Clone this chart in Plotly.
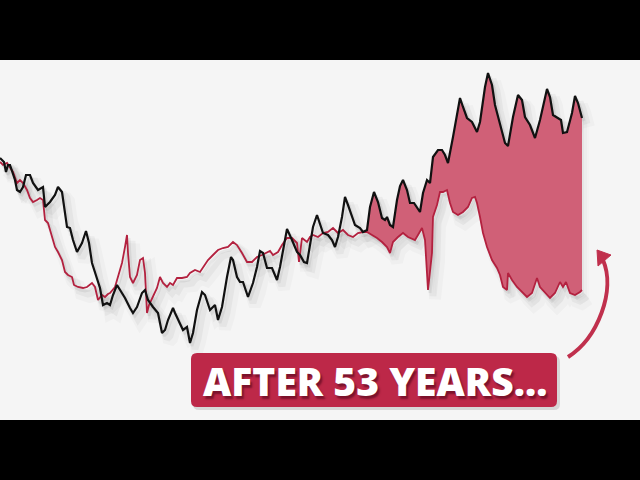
import numpy as np
import plotly.graph_objects as go

# time index (0..582 ~ 53 years) and series values
t_black = [0, 4, 6, 8, 10, 15, 17, 20, 23, 26, 30, 33, 38, 42, 43, 45, 50, 55, 58, 62, 65, 67, 70, 73, 77, 82, 86, 89,
           92, 95, 98, 100, 103, 107, 110, 113, 117, 120, 125, 130, 133, 137, 142, 145, 148, 153, 158, 162, 165, 168,
           173, 175, 180, 183, 187, 190, 193, 197, 202, 205, 210, 215, 218, 222, 227, 231, 233, 237, 240, 243, 248,
           253, 257, 260, 263, 267, 272, 277, 280, 287, 292, 297, 300, 304, 307, 310, 313, 317, 320, 323, 328, 332,
           335, 338, 342, 345, 348, 352, 355, 360, 363, 367, 370, 374, 378, 382, 385, 387, 390, 393, 397, 400, 403,
           407, 410, 414, 417, 420, 423, 427, 430, 433, 438, 442, 445, 448, 453, 457, 460, 463, 467, 472, 477, 480,
           485, 488, 492, 495, 500, 505, 508, 513, 518, 522, 525, 530, 535, 540, 547, 550, 553, 558, 561, 563, 567,
           572, 575, 578, 582]
v_black = [262, 258, 248, 255, 255, 240, 230, 228, 233, 245, 245, 237, 230, 232, 233, 213, 218, 225, 233, 228, 207, 193,
           192, 180, 168, 177, 189, 177, 157, 147, 137, 132, 115, 117, 115, 125, 135, 130, 122, 112, 107, 113, 127, 130,
           120, 113, 107, 87, 90, 100, 112, 107, 97, 90, 93, 77, 87, 110, 128, 125, 110, 115, 100, 113, 143, 163, 160,
           143, 138, 138, 123, 137, 153, 169, 167, 152, 152, 140, 153, 191, 180, 168, 165, 158, 157, 173, 193, 205,
           197, 187, 185, 180, 173, 183, 203, 223, 215, 203, 195, 192, 188, 190, 213, 228, 218, 202, 200, 203, 195,
           193, 220, 234, 240, 230, 217, 217, 212, 208, 227, 240, 237, 263, 270, 270, 265, 257, 283, 307, 322, 313,
           302, 298, 288, 298, 333, 347, 335, 315, 295, 277, 274, 303, 325, 320, 303, 295, 282, 300, 331, 323, 305,
           302, 300, 287, 288, 307, 324, 317, 302]

t_red = [0, 3, 7, 10, 13, 17, 20, 23, 27, 30, 33, 37, 40, 43, 45, 48, 52, 55, 58, 62, 65, 68, 72, 74, 78, 83, 87, 92, 95,
         98, 102, 105, 108, 110, 115, 118, 122, 125, 127, 128, 130, 133, 137, 140, 143, 145, 147, 149, 153, 157, 160,
         163, 167, 170, 173, 177, 182, 187, 190, 195, 200, 205, 208, 213, 218, 223, 228, 233, 237, 242, 247, 252, 257,
         262, 267, 270, 273, 278, 282, 287, 292, 297, 299, 302, 307, 310, 313, 318, 323, 328, 333, 338, 343, 348, 353,
         358, 363, 367, 372, 377, 382, 387, 390, 393, 398, 403, 408, 410, 415, 418, 422, 425, 428, 432, 433, 437, 440,
         443, 447, 450, 453, 458, 463, 468, 472, 475, 477, 480, 483, 487, 492, 497, 500, 503, 507, 508, 512, 517, 522,
         527, 532, 537, 540, 545, 550, 555, 560, 563, 566, 570, 575, 580, 582]
v_red = [258, 255, 257, 253, 248, 237, 240, 237, 230, 222, 218, 220, 222, 220, 200, 197, 183, 173, 168, 160, 148, 145, 143,
         135, 133, 132, 133, 137, 133, 120, 125, 123, 126, 127, 133, 143, 157, 173, 185, 167, 143, 137, 145, 160, 162,
         147, 107, 115, 123, 132, 143, 137, 133, 137, 135, 142, 142, 143, 147, 150, 148, 155, 160, 165, 170, 172, 173,
         178, 175, 167, 158, 158, 163, 165, 168, 169, 165, 168, 175, 182, 182, 177, 158, 182, 178, 183, 185, 183, 187,
         188, 192, 187, 190, 185, 183, 187, 188, 188, 185, 182, 178, 173, 167, 178, 183, 187, 183, 182, 180, 185, 192,
         180, 130, 167, 203, 215, 228, 228, 230, 217, 208, 205, 208, 213, 222, 223, 217, 203, 187, 173, 160, 152, 145,
         133, 130, 147, 140, 133, 128, 123, 127, 142, 133, 127, 122, 127, 138, 133, 138, 127, 125, 128, 130]

label_text = "AFTER 53 YEARS..."
gap_start = 365  # where the black series overtakes the red one

BLACK = "#111111"
RED = "#b3213f"
FILL = "rgb(208,96,119)"

tb, vb = np.array(t_black, float), np.array(v_black, float)
tr, vr = np.array(t_red, float), np.array(v_red, float)
mb, mr = tb >= gap_start, tr >= gap_start
poly_t = np.concatenate([tb[mb], tr[mr][::-1]])
poly_v = np.concatenate([vb[mb], vr[mr][::-1]])

fig = go.Figure()

# soft drop shadows
for dx, dy, w, a in [(7, -9, 12, 0.025), (5, -6, 7, 0.04), (2, -3, 3, 0.06)]:
    fig.add_trace(go.Scatter(x=poly_t + dx, y=poly_v + dy, fill="toself", mode="none",
                             fillcolor=f"rgba(0,0,0,{a*0.5})", hoverinfo="skip", showlegend=False))
    for tt, vv in [(tb, vb), (tr, vr)]:
        fig.add_trace(go.Scatter(x=tt + dx, y=vv + dy, mode="lines",
                                 line=dict(color=f"rgba(0,0,0,{a})", width=w),
                                 hoverinfo="skip", showlegend=False))

# gap fill
fig.add_trace(go.Scatter(x=poly_t, y=poly_v, fill="toself", mode="none", fillcolor=FILL,
                         hoverinfo="skip", showlegend=False))
fig.add_trace(go.Scatter(x=tr, y=vr, mode="lines", line=dict(color=RED, width=1.8), showlegend=False))
fig.add_trace(go.Scatter(x=tb, y=vb, mode="lines", line=dict(color=BLACK, width=2.2), showlegend=False))


def rounded_rect(x0, y0, x1, y1, r):
    return (f"M {x0+r},{y0} L {x1-r},{y0} Q {x1},{y0} {x1},{y0+r} L {x1},{y1-r} Q {x1},{y1} {x1-r},{y1} "
            f"L {x0+r},{y1} Q {x0},{y1} {x0},{y1-r} L {x0},{y0+r} Q {x0},{y0} {x0+r},{y0} Z")


shapes = [
    dict(type="path", xref="x", yref="y", path=rounded_rect(193, 10, 560, 64, 6),
         fillcolor="rgba(0,0,0,0.12)", line=dict(width=0), layer="above"),
    dict(type="path", xref="x", yref="y", path=rounded_rect(191, 13, 557, 67, 6),
         fillcolor="#bd2848", line=dict(width=0), layer="above"),
    dict(type="path", xref="x", yref="y", path="M 568,63 C 598,82 616,130 603,160",
         line=dict(color="#c0304d", width=4), layer="above"),
    dict(type="path", xref="x", yref="y", path="M 597,170 L 611,165 L 598,154 Z",
         fillcolor="#c0304d", line=dict(color="#c0304d", width=1), layer="above"),
]

fig.update_layout(
    width=640, height=480,
    margin=dict(l=0, r=0, t=60, b=60),
    paper_bgcolor="black", plot_bgcolor="#f5f5f5",
    xaxis=dict(range=[0, 640], visible=False, fixedrange=True),
    yaxis=dict(range=[0, 360], visible=False, fixedrange=True),
    shapes=shapes,
    annotations=[dict(x=375, y=40, xref="x", yref="y", text=label_text, showarrow=False,
                      font=dict(family="Open Sans", size=39, color="white", weight=800,
                                shadow="2px 3px 2px rgba(70,0,20,0.55)"))],
    showlegend=False,
)

fig.write_html("out.html", config={"displayModeBar": False},
               post_script="document.body.style.margin='0';")
